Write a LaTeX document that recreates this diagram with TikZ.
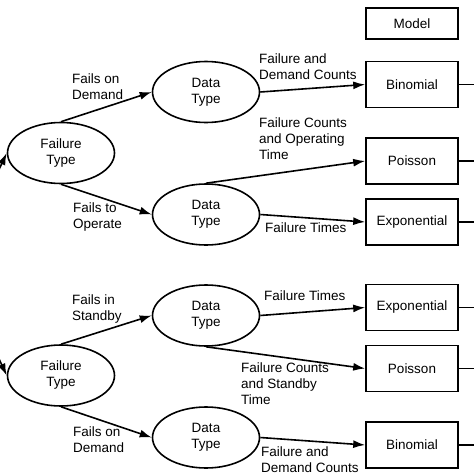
\documentclass[tikz,border=0pt]{standalone}
\usepackage{fontspec}
\setmainfont{Liberation Sans}
\usetikzlibrary{shapes.geometric,arrows.meta}

\begin{document}
\begin{tikzpicture}[x=1pt, y=-1pt,
		every node/.style={font=\fontsize{13.5}{16}\selectfont},
		oval/.style={ellipse, draw, line width=1.6pt, minimum width=107pt, minimum height=61pt, align=center, inner sep=1pt},
		box/.style={rectangle, draw, line width=1.6pt, minimum width=92pt, minimum height=46pt},
		lbl/.style={anchor=west, align=left, inner sep=0pt},
		arr/.style={line width=1.6pt, -{Latex[length=12pt, width=8pt]}},
		wire/.style={line width=1.6pt}]
					\useasboundingbox (0,0) rectangle (474,474);

					\node[box, minimum height=31pt] (model) at (412,23.5) {Model};
					\node[box] (bin1) at (412,84.5) {Binomial};
					\node[box] (poi1) at (412,161) {Poisson};
					\node[box] (exp1) at (412,222) {Exponential};
					\node[box] (exp2) at (412,307.5) {Exponential};
					\node[box] (poi2) at (412,368.5) {Poisson};
					\node[box] (bin2) at (412,445) {Binomial};

					\node[oval] (f1) at (61,153) {Failure\\Type};
					\node[oval] (d1) at (206,92) {Data\\Type};
					\node[oval] (d2) at (206,214.5) {Data\\Type};
					\node[oval] (f2) at (61,375.5) {Failure\\Type};
					\node[oval] (d3) at (206,315.5) {Data\\Type};
					\node[oval] (d4) at (206,437.5) {Data\\Type};

					\coordinate (root) at (-45,264);
					\coordinate (o1) at (490,84.5);
					\coordinate (o2) at (490,161);
					\coordinate (o3) at (490,222);
					\coordinate (o4) at (490,307.5);
					\coordinate (o5) at (490,368.5);
					\coordinate (o6) at (490,445);

					\node[lbl] (l1) at (72,86.5) {Fails on\\Demand};
					\node[lbl] (l2) at (73,217.5) {Fails to\\Operate};
					\node[lbl] (l3) at (259,67) {Failure and\\Demand Counts};
					\node[lbl] (l4) at (259,139) {Failure Counts\\and Operating\\Time};
					\node[lbl] (l5) at (265,228) {Failure Times};
					\node[lbl] (l6) at (264,296) {Failure Times};
					\node[lbl] (l7) at (241,384) {Failure Counts\\and Standby\\Time};
					\node[lbl] (l8) at (261,459.5) {Failure and\\Demand Counts};
					\node[lbl] (l9) at (72,309.5) {Fails in\\Standby};
					\node[lbl] (l10) at (73,440) {Fails on\\Demand};

					\path[arr]
					(root) edge (f1.west)
					(root) edge (f2.west)

					(f1.north) edge (d1.west)
					(f1.south) edge (d2.west)
					(d1.east) edge (bin1.west)
					(d2.north) edge (poi1.west)
					(d2.east) edge (exp1.west)

					(f2.north) edge (d3.west)
					(f2.south) edge (d4.west)
					(d3.east) edge (exp2.west)
					(d3.south) edge (poi2.west)
					(d4.east) edge (bin2.west)
					;

					\path[wire]
					(bin1) edge (o1)
					(poi1) edge (o2)
					(exp1) edge (o3)
					(exp2) edge (o4)
					(poi2) edge (o5)
					(bin2) edge (o6)
					;
				\end{tikzpicture}
\end{document}
